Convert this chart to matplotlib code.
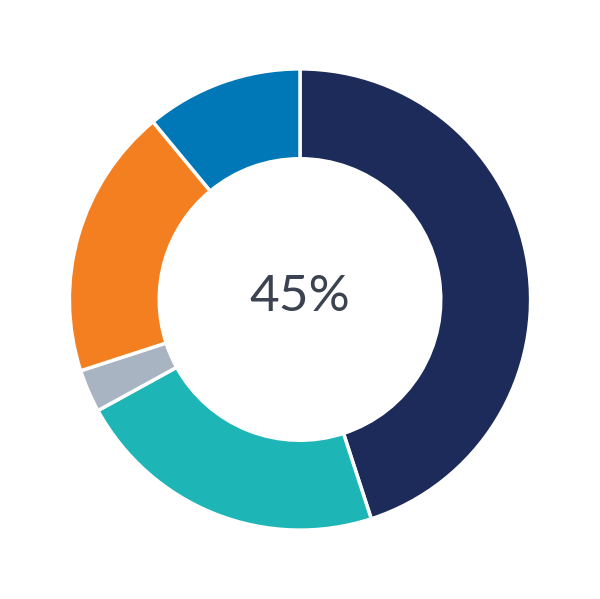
import matplotlib
matplotlib.use("Agg")
import matplotlib.pyplot as plt

# donut segments, clockwise from top
labels = ["A", "B", "C", "D", "E"]
values = [45, 22, 3, 19, 11]
colors = ["#1c2b5a", "#1db5b5", "#a9b4c2", "#f37f20", "#0077b6"]
center_text = "45%"

fig = plt.figure(figsize=(6.0, 5.99), dpi=100)
ax = fig.add_axes([0, 0, 1, 1])
ax.pie(values, colors=colors, startangle=90, counterclock=False,
       radius=0.77, center=(0, 0),
       wedgeprops=dict(width=0.30, edgecolor="white", linewidth=2.5))
ax.text(0, 0.01, center_text, ha="center", va="center", fontsize=37,
        family=["Lato", "DejaVu Sans"], color="#3b4350")
ax.set_xlim(-1, 1)
ax.set_ylim(-1, 1)
ax.set_aspect("equal")
ax.axis("off")
fig.savefig("out.png", dpi=100, facecolor="white")
